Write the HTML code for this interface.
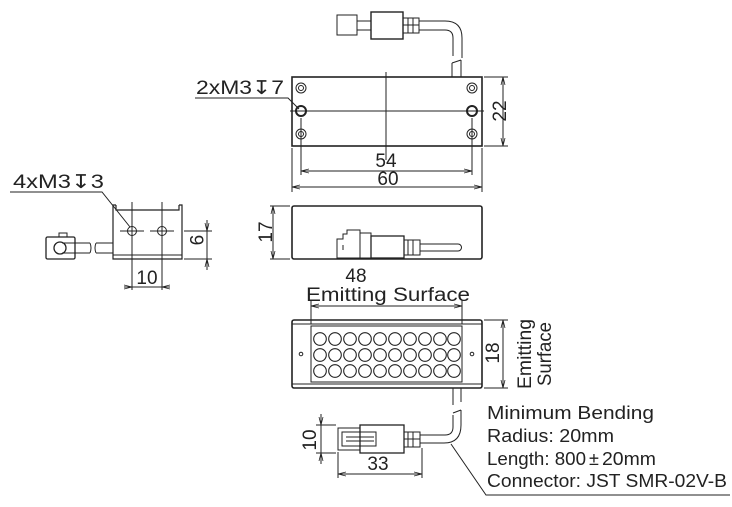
<!DOCTYPE html>
<html><head><meta charset="utf-8"><style>
html,body{margin:0;padding:0;background:#fff;}
svg{display:block}
text{font-family:"Liberation Sans",sans-serif;fill:#222;}
</style></head><body>
<svg width="732" height="507" viewBox="0 0 732 507" xmlns="http://www.w3.org/2000/svg">
<defs>
<marker id="a" markerWidth="8" markerHeight="6" refX="8" refY="3" orient="auto-start-reverse" markerUnits="userSpaceOnUse"><path d="M0,1 L8,3 L0,5" fill="none" stroke="#222" stroke-width="0.8"/></marker>
</defs>
<g stroke="#222" fill="none" stroke-width="1">
<!-- TOP VIEW -->
<rect x="292" y="77" width="190" height="69" stroke-width="1.6"/>
<line x1="386" y1="72" x2="386" y2="160"/>
<line x1="290" y1="111" x2="484" y2="111"/>
<g>
<circle cx="301" cy="88" r="5"/><circle cx="301" cy="88" r="2.5"/>
<circle cx="301" cy="134" r="5"/><circle cx="301" cy="134" r="2.5"/>
<circle cx="472" cy="88" r="5"/><circle cx="472" cy="88" r="2.5"/>
<circle cx="472" cy="134" r="5"/><circle cx="472" cy="134" r="2.5"/>
<circle cx="301" cy="111" r="5" stroke-width="2"/>
<circle cx="472" cy="111" r="5" stroke-width="2"/>
</g>
<line x1="301" y1="118" x2="301" y2="175"/>
<line x1="472" y1="118" x2="472" y2="175"/>
<line x1="292" y1="148" x2="292" y2="192"/>
<line x1="482" y1="148" x2="482" y2="192"/>
<line x1="301" y1="171" x2="472" y2="171" marker-start="url(#a)" marker-end="url(#a)"/>
<line x1="292" y1="187" x2="482" y2="187" marker-start="url(#a)" marker-end="url(#a)"/>
<line x1="484" y1="77" x2="508" y2="77"/>
<line x1="484" y1="146" x2="508" y2="146"/>
<line x1="503" y1="77" x2="503" y2="146" marker-start="url(#a)" marker-end="url(#a)"/>
<polyline points="195,98 288,98 299,109"/>
<rect x="337" y="15" width="20" height="20"/>
<line x1="357" y1="21" x2="371" y2="21"/><line x1="357" y1="30" x2="371" y2="30"/>
<rect x="371" y="12" width="32" height="27" stroke-width="1.4"/>
<rect x="403" y="18" width="16" height="15"/>
<line x1="408" y1="18" x2="408" y2="33"/><line x1="413" y1="18" x2="413" y2="33"/>
<line x1="403" y1="25" x2="419" y2="25"/>
<path d="M419,21 L445,21 Q462,21 462,38 L462,58"/>
<path d="M419,30 L445,30 Q453,30 453,38 L453,56"/>
<path d="M452,63 L461,60"/>
<line x1="452" y1="63" x2="452" y2="77"/><line x1="461" y1="60" x2="461" y2="77"/>

<!-- SIDE VIEW -->
<rect x="292" y="206" width="190" height="53" rx="2" stroke-width="1.6"/>
<line x1="270" y1="206" x2="290" y2="206"/><line x1="270" y1="259" x2="290" y2="259"/>
<line x1="273" y1="206" x2="273" y2="259" marker-start="url(#a)" marker-end="url(#a)"/>
<path d="M337,239 L343,239 L343,234 L347,234 L347,230 L360,230 L360,258 L337,258 Z"/>
<line x1="343" y1="245" x2="343" y2="250"/>
<rect x="360" y="233" width="11" height="25"/>
<rect x="371" y="236" width="33" height="22" stroke-width="1.3"/>
<rect x="404" y="240" width="16" height="15"/>
<line x1="408" y1="240" x2="408" y2="255"/><line x1="413" y1="240" x2="413" y2="255"/>
<path d="M420,244 L458,244 A3.5,3.5 0 0 1 458,251 L420,251"/>

<!-- LEFT VIEW -->
<path d="M116,205 L113,205 L113,259 L182,259 L182,205 L179,205 M116,205 L116,210 L179,210 L179,205" stroke-width="1.2"/>
<line x1="113" y1="255" x2="182" y2="255"/>
<circle cx="132" cy="231" r="4.5"/><circle cx="162" cy="231" r="4.5"/>
<line x1="120" y1="231" x2="144" y2="231"/><line x1="150" y1="231" x2="174" y2="231"/>
<line x1="132" y1="202" x2="132" y2="290"/><line x1="162" y1="202" x2="162" y2="290"/>
<line x1="124" y1="287" x2="132" y2="287" marker-end="url(#a)"/>
<line x1="170" y1="287" x2="162" y2="287" marker-end="url(#a)"/>
<line x1="132" y1="287" x2="162" y2="287"/>
<line x1="184" y1="231" x2="212" y2="231"/><line x1="184" y1="259" x2="212" y2="259"/>
<line x1="207" y1="220" x2="207" y2="231" marker-end="url(#a)"/>
<line x1="207" y1="270" x2="207" y2="259" marker-end="url(#a)"/>
<line x1="207" y1="231" x2="207" y2="259"/>
<polyline points="10,192 102,192 130,227"/>
<rect x="46" y="237" width="29" height="22" rx="1.5" stroke-width="1.3"/>
<rect x="59" y="233" width="8" height="4"/>
<circle cx="60" cy="248" r="6" stroke-width="1.3"/>
<line x1="62" y1="243" x2="90" y2="243"/><line x1="62" y1="253" x2="90" y2="253"/>
<path d="M90,243 Q92,248 90,253"/>
<line x1="96" y1="243" x2="113" y2="243"/><line x1="96" y1="253" x2="113" y2="253"/>
<path d="M96,243 Q94,248 96,253"/>

<!-- BOTTOM VIEW -->
<rect x="292" y="320" width="190" height="68" rx="2" stroke-width="1.6"/>
<line x1="292" y1="324" x2="482" y2="324"/><line x1="292" y1="384" x2="482" y2="384"/>
<rect x="311" y="326" width="151" height="56"/>
<circle cx="301" cy="354" r="1.8"/><circle cx="472" cy="354" r="1.8"/>
<line x1="311" y1="300" x2="311" y2="324"/><line x1="462" y1="300" x2="462" y2="324"/>
<line x1="311" y1="306" x2="462" y2="306" marker-start="url(#a)" marker-end="url(#a)"/>
<line x1="484" y1="320" x2="508" y2="320"/><line x1="484" y1="388" x2="508" y2="388"/>
<line x1="503" y1="320" x2="503" y2="388" marker-start="url(#a)" marker-end="url(#a)"/>
<g stroke-width="1.1">
<circle cx="320" cy="339" r="6.3"/><circle cx="335" cy="339" r="6.3"/><circle cx="350" cy="339" r="6.3"/><circle cx="365" cy="339" r="6.3"/><circle cx="380" cy="339" r="6.3"/><circle cx="395" cy="339" r="6.3"/><circle cx="410" cy="339" r="6.3"/><circle cx="425" cy="339" r="6.3"/><circle cx="440" cy="339" r="6.3"/><circle cx="454" cy="339" r="6.3"/>
<circle cx="320" cy="355" r="6.3"/><circle cx="335" cy="355" r="6.3"/><circle cx="350" cy="355" r="6.3"/><circle cx="365" cy="355" r="6.3"/><circle cx="380" cy="355" r="6.3"/><circle cx="395" cy="355" r="6.3"/><circle cx="410" cy="355" r="6.3"/><circle cx="425" cy="355" r="6.3"/><circle cx="440" cy="355" r="6.3"/><circle cx="454" cy="355" r="6.3"/>
<circle cx="320" cy="371" r="6.3"/><circle cx="335" cy="371" r="6.3"/><circle cx="350" cy="371" r="6.3"/><circle cx="365" cy="371" r="6.3"/><circle cx="380" cy="371" r="6.3"/><circle cx="395" cy="371" r="6.3"/><circle cx="410" cy="371" r="6.3"/><circle cx="425" cy="371" r="6.3"/><circle cx="440" cy="371" r="6.3"/><circle cx="454" cy="371" r="6.3"/>
</g>
<line x1="453" y1="388" x2="453" y2="405"/><line x1="461" y1="388" x2="461" y2="402"/>
<path d="M453,413 L461,410"/>
<path d="M461,410 L461,425 Q461,443 444,443 L420,443"/>
<path d="M453,415 L453,427 Q453,435 445,435 L420,435"/>
<rect x="404" y="432" width="16" height="15"/>
<line x1="408" y1="432" x2="408" y2="447"/><line x1="413" y1="432" x2="413" y2="447"/>
<line x1="404" y1="439" x2="420" y2="439"/>
<rect x="360" y="425" width="44" height="28" stroke-width="1.3"/>
<rect x="338" y="428" width="22" height="22"/>
<rect x="342" y="432" width="34" height="14"/>
<line x1="346" y1="437" x2="374" y2="437"/><line x1="346" y1="441" x2="374" y2="441"/>
<polyline points="451,444 486,495 730,495"/>
<line x1="316" y1="425" x2="336" y2="425"/><line x1="316" y1="453" x2="336" y2="453"/>
<line x1="321" y1="414" x2="321" y2="425" marker-end="url(#a)"/>
<line x1="321" y1="464" x2="321" y2="453" marker-end="url(#a)"/>
<line x1="321" y1="425" x2="321" y2="453"/>
<line x1="338" y1="452" x2="338" y2="478"/><line x1="422" y1="448" x2="422" y2="478"/>
<line x1="338" y1="474" x2="422" y2="474" marker-start="url(#a)" marker-end="url(#a)"/>
</g>
<g font-size="19">
<text x="196" y="94" textLength="88" lengthAdjust="spacingAndGlyphs">2xM3↧7</text>
<text x="13" y="188" textLength="91" lengthAdjust="spacingAndGlyphs">4xM3↧3</text>
<text x="386" y="167" text-anchor="middle">54</text>
<text x="388" y="185" text-anchor="middle">60</text>
<text x="499" y="118" text-anchor="middle" transform="rotate(-90 499 111)">22</text>
<text x="265" y="239" text-anchor="middle" transform="rotate(-90 265 232)">17</text>
<text x="356" y="282" text-anchor="middle">48</text>
<text x="147" y="284" text-anchor="middle">10</text>
<text x="197" y="247" text-anchor="middle" transform="rotate(90 197 240)">9</text>
<text x="388" y="301" text-anchor="middle" textLength="164" lengthAdjust="spacingAndGlyphs">Emitting Surface</text>
<text x="492" y="360" text-anchor="middle" transform="rotate(-90 492 353)">18</text>
<text x="524" y="361" text-anchor="middle" transform="rotate(-90 524 354)" textLength="70" lengthAdjust="spacingAndGlyphs">Emitting</text>
<text x="544" y="361" text-anchor="middle" transform="rotate(-90 544 354)" textLength="64" lengthAdjust="spacingAndGlyphs">Surface</text>
<text x="309" y="447" text-anchor="middle" transform="rotate(-90 309 440)">10</text>
<text x="378" y="470" text-anchor="middle">33</text>
</g>
<g font-size="18">
<text x="487" y="419" textLength="167" lengthAdjust="spacingAndGlyphs">Minimum Bending</text>
<text x="487" y="442" textLength="127" lengthAdjust="spacingAndGlyphs">Radius: 20mm</text>
<text x="487" y="465" textLength="99" lengthAdjust="spacingAndGlyphs">Length: 800</text>
<text x="589" y="465">±</text>
<text x="602" y="465" textLength="54" lengthAdjust="spacingAndGlyphs">20mm</text>
<text x="487" y="487" textLength="240" lengthAdjust="spacingAndGlyphs">Connector: JST SMR-02V-B</text>
</g>
</svg>
</body></html>
